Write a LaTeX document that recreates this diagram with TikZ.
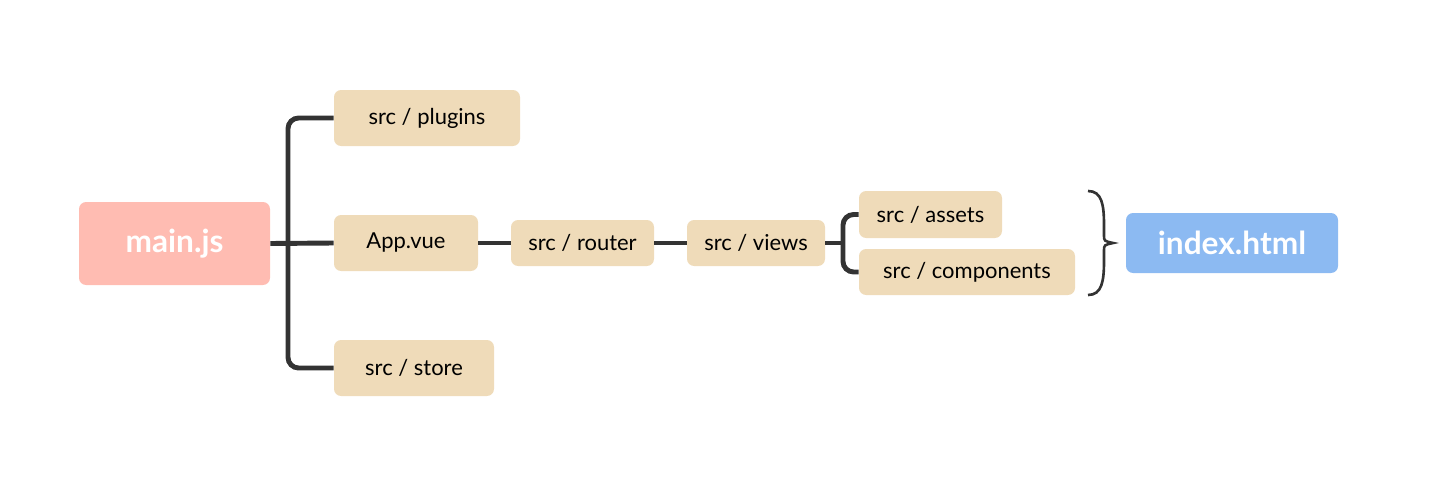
\documentclass[tikz,border=0pt]{standalone}
\usepackage{fontspec}
\setmainfont{Lato}
\usetikzlibrary{decorations.pathreplacing}
\definecolor{beige}{HTML}{EFDBB9}
\definecolor{pinkc}{HTML}{FFBCB2}
\definecolor{bluec}{HTML}{8CBAF2}
\definecolor{linec}{HTML}{333333}
\begin{document}
\begin{tikzpicture}[x=0.02cm,y=-0.02cm,
  box/.style={fill=beige,rounded corners=4pt,inner sep=0pt,font=\fontsize{12.5}{14}\selectfont,text=black},
  big/.style={rounded corners=4pt,inner sep=0pt,font=\fontsize{18}{20}\selectfont\bfseries,text=white},
  conn/.style={draw=linec,line width=2.8pt,rounded corners=6pt}]
\useasboundingbox (0,0) rectangle (1455,497);
\node[big,fill=pinkc,minimum width=191*0.02cm,minimum height=83*0.02cm] (main) at (174.5,243.5) {main.js};
\node[box,minimum width=186*0.02cm,minimum height=56*0.02cm] (plug) at (427,118) {src / plugins};
\node[box,minimum width=144*0.02cm,minimum height=56*0.02cm] (app) at (406,243) {App.vue};
\node[box,minimum width=160*0.02cm,minimum height=56*0.02cm] (store) at (414,368) {src / store};
\node[box,minimum width=143*0.02cm,minimum height=46*0.02cm] (router) at (582.5,243) {src / router};
\node[box,minimum width=138*0.02cm,minimum height=46*0.02cm] (views) at (756,243) {src / views};
\node[box,minimum width=143*0.02cm,minimum height=47*0.02cm] (assets) at (930.5,214.5) {src / assets};
\node[box,minimum width=216*0.02cm,minimum height=46*0.02cm] (comp) at (967,272) {src / components};
\node[big,fill=bluec,minimum width=212*0.02cm,minimum height=60*0.02cm] (index) at (1232,243) {index.html};
\coordinate (b1) at (288,243);
\draw[conn] (main.east) -- (app.west);
\draw[conn] (plug.west) -| (b1) |- (store.west);
\draw[conn] (app.east) -- (router.west);
\draw[conn] (router.east) -- (views.west);
\coordinate (b2) at (843,243);
\draw[conn] (views.east) -- (b2);
\draw[conn] (assets.west) -| (b2) |- (comp.west);
\coordinate (br) at (1113,243);
\draw[draw=linec,line width=1.5pt] (1088,191) .. controls (1102,191) and (1104,205) .. (1104,225) -- (1104,235) .. controls (1104,241) .. (br) .. controls (1104,245) .. (1104,251) -- (1104,261) .. controls (1104,281) and (1102,295) .. (1088,295);
\end{tikzpicture}
\end{document}
